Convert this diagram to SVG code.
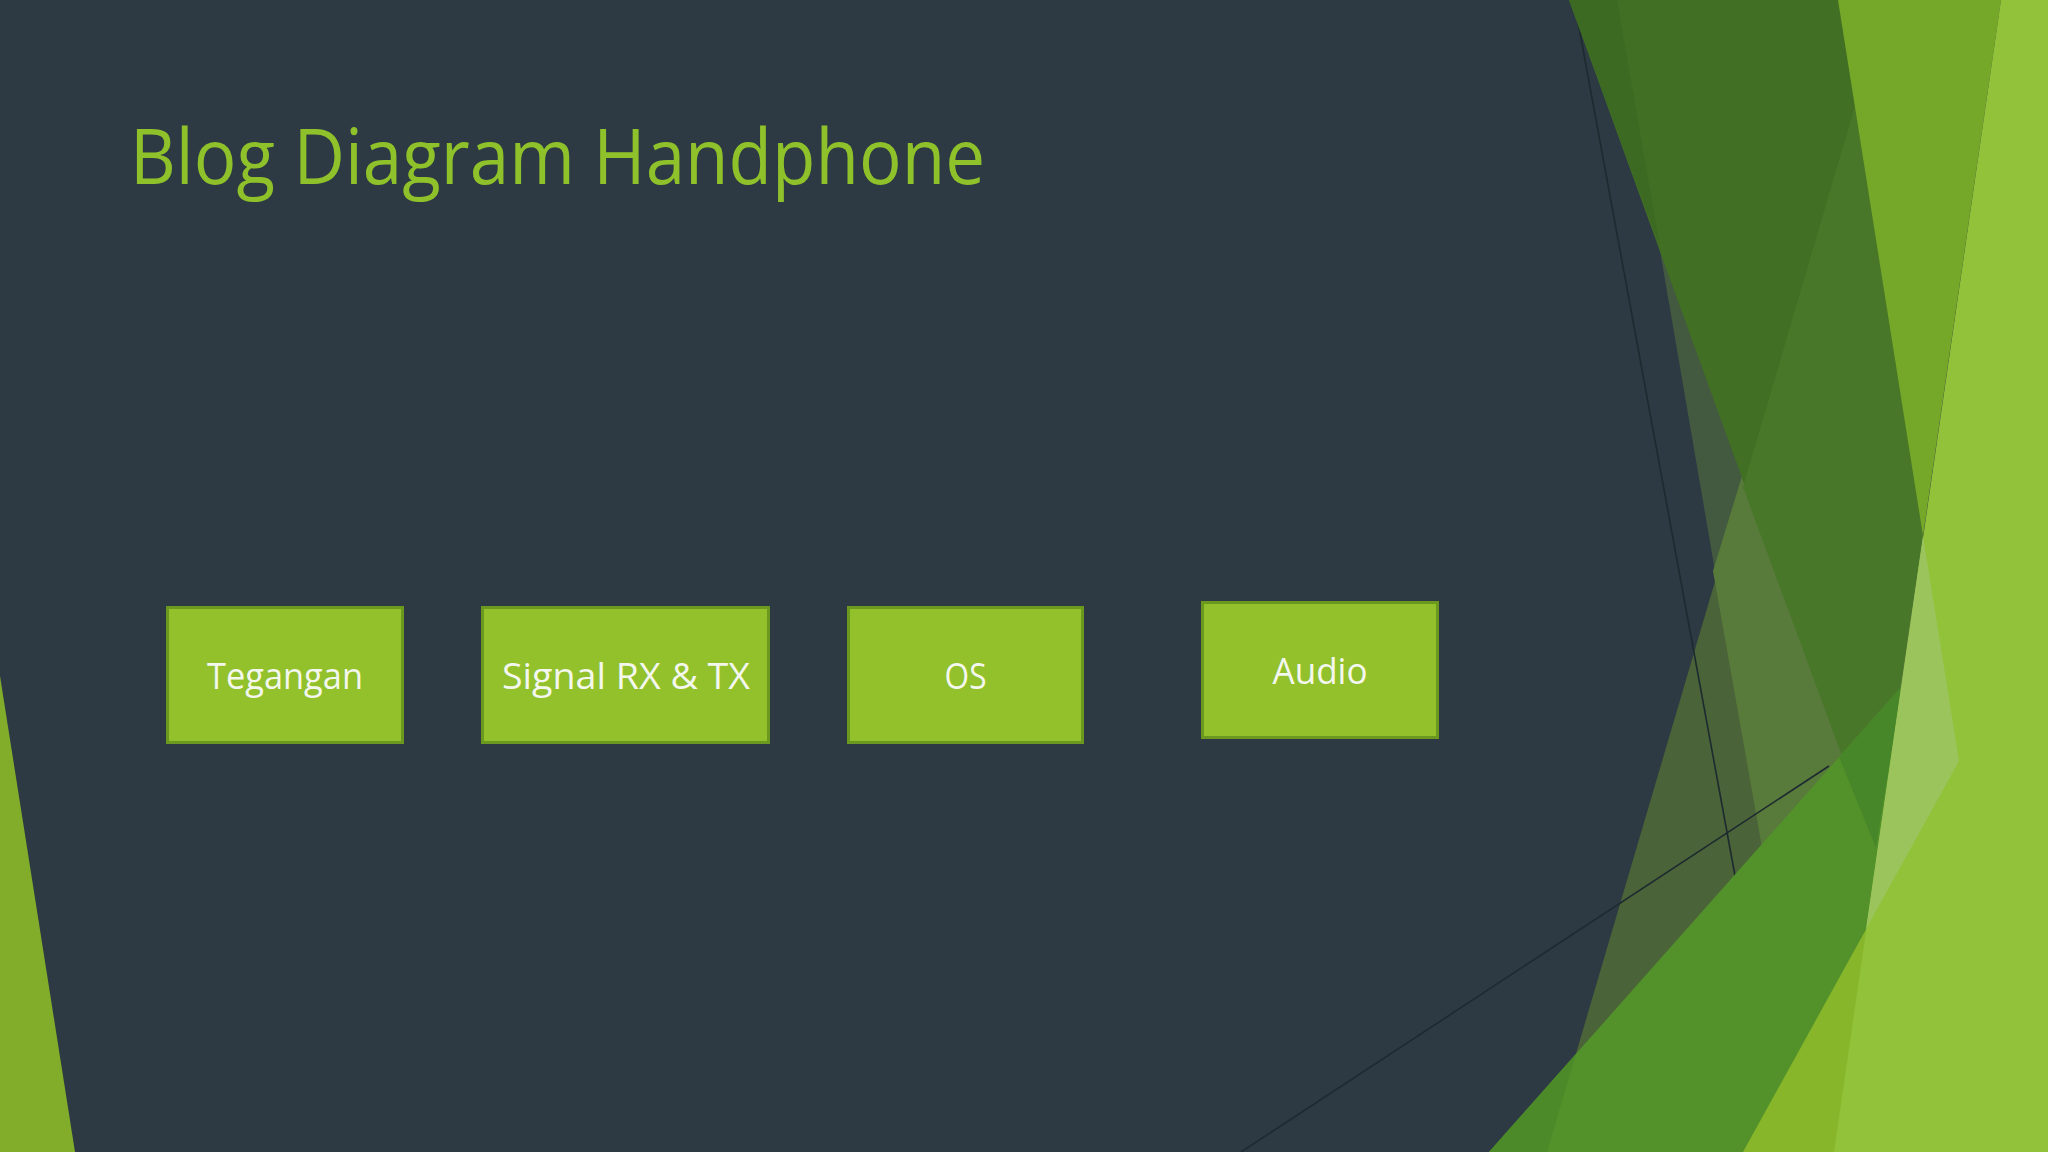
<svg xmlns="http://www.w3.org/2000/svg" width="2048" height="1152" viewBox="0 0 2048 1152">
<style>
.box{fill:#92c12b;stroke:#6b981f;stroke-width:3}
.lbl{font-family:"Open Sans","DejaVu Sans",sans-serif;font-size:37px;fill:#f4f7ee;text-anchor:middle}
.ttl{font-family:"Open Sans","DejaVu Sans",sans-serif;font-size:76px;fill:#8fc12a}
.thin{stroke:#1d2a30;stroke-width:1.6;fill:none}
</style>
<rect width="2048" height="1152" fill="#2d3a43"/>
<g id="background-facets">
<polygon points="0,676 75,1152 0,1152" fill="#82ad2a"/>
<polygon points="1617,0 1900,0 1900,845 1762,845" fill="#435a40"/>
<polygon points="1855,106 1547,1152 2021,1152" fill="#4a6338"/>
<polygon points="1713,571 1855,106 2021,1152 1816,1152" fill="#587a3a"/>
<line class="thin" x1="1574" y1="0" x2="1745" y2="930"/>
<line class="thin" x1="1241" y1="1152" x2="1829" y2="766"/>
<polygon points="1569,0 2001,0 1876,848" fill="#416f24"/>
<polygon points="1569,0 1617,0 1660,247" fill="#3c6a22"/>
<polygon points="1855,106 1743,487 1876,848 1923,536" fill="#48772a"/>
<polygon points="1838,0 2001,0 1923,536" fill="#75a828"/>
<polygon points="1489,1152 1902,686 1990,686 1990,1152" fill="#53922a"/>
<polygon points="1489,1152 1576,1054 1547,1152" fill="#4c8a29"/>
<polygon points="1839,757 1902,686 1876,848" fill="#48862a"/>
<polygon points="2048,600 2048,1152 1743,1152" fill="#87b62b"/>
<polygon points="2001,0 2048,0 2048,1152 1834,1152" fill="#92c13a"/>
<polygon points="1923,536 1959,761 1866,929" fill="#9bc55c"/>
</g>
<text class="ttl" x="130" y="184" textLength="855" lengthAdjust="spacingAndGlyphs">Blog Diagram Handphone</text>
<g id="node-tegangan">
<rect class="box" x="167.5" y="607.5" width="235" height="135"/>
<text class="lbl" x="285" y="689" textLength="156" lengthAdjust="spacingAndGlyphs">Tegangan</text>
</g>
<g id="node-signal">
<rect class="box" x="482.5" y="607.5" width="286" height="135"/>
<text class="lbl" x="626" y="689" textLength="248" lengthAdjust="spacingAndGlyphs">Signal RX &amp; TX</text>
</g>
<g id="node-os">
<rect class="box" x="848.5" y="607.5" width="234" height="135"/>
<text class="lbl" x="965.5" y="689" textLength="42" lengthAdjust="spacingAndGlyphs">OS</text>
</g>
<g id="node-audio">
<rect class="box" x="1202.5" y="602.5" width="235" height="135"/>
<text class="lbl" x="1320" y="684" textLength="95" lengthAdjust="spacingAndGlyphs">Audio</text>
</g>
<g id="connectors"></g>
</svg>
